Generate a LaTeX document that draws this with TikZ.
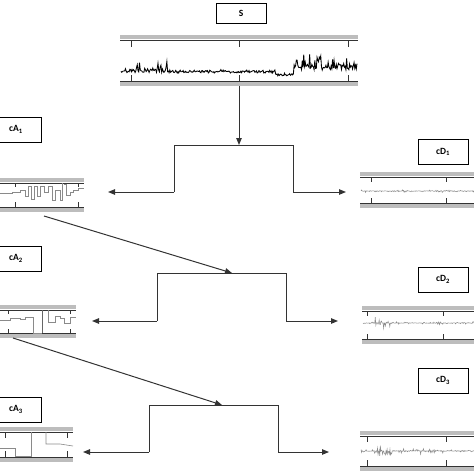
\documentclass[tikz,border=0pt]{standalone}
\usepackage{fontspec}
\setmainfont{Carlito}
\usetikzlibrary{arrows.meta}

\definecolor{bargray}{HTML}{BDBDBD}
\definecolor{siggray}{HTML}{8A8A8A}
\definecolor{linegray}{HTML}{333333}

% gray rail above and below a signal: name, x1, x2, ytop, ybot
\newcommand{\track}[5]{%
  \fill[bargray] (#2,#4-5) rectangle (#3,#4-1);
  \fill[bargray] (#2,#5+1) rectangle (#3,#5+5);
  \draw[rail] (#2,#4) -- (#3,#4);
  \draw[rail] (#2,#5) -- (#3,#5);
  \coordinate (#1) at ({(#2+#3)/2},{#5+5});
}

\begin{document}
\begin{tikzpicture}[x=1pt, y=-1pt,
    namebox/.style = {draw, line width=0.8pt, minimum width=50pt, minimum height=25pt,
                      inner sep=0pt, font=\fontsize{9.5}{11}\selectfont\bfseries},
    arr/.style = {line width=1pt, draw=linegray, -{Triangle[length=7pt,width=5.5pt]}},
    rail/.style = {line width=1pt, draw=black!80},
    tick/.style = {line width=0.8pt, draw=black!80},
    sig/.style = {siggray, line width=0.6pt}]
    \useasboundingbox (0,0) rectangle (474,474);
    \pgfmathsetseed{11}

    % labels
    \node[namebox, minimum height=20pt] (S) at (241,13) {S};
    \node[namebox] (cA1) at (16,129.5) {cA\textsubscript{1}};
    \node[namebox] (cA2) at (16,258.5) {cA\textsubscript{2}};
    \node[namebox] (cA3) at (16,409.5) {cA\textsubscript{3}};
    \node[namebox] (cD1) at (443,152) {cD\textsubscript{1}};
    \node[namebox] (cD2) at (443,279.5) {cD\textsubscript{2}};
    \node[namebox] (cD3) at (443,380.5) {cD\textsubscript{3}};

    % rails
    \track{tS}{120}{358}{40}{81}
    \track{tA1}{-2}{84}{183}{207}
    \track{tA2}{-2}{76}{310}{333}
    \track{tA3}{-2}{73}{432}{457}
    \track{tD1}{360}{476}{177}{203}
    \track{tD2}{362}{476}{311}{339}
    \track{tD3}{360}{476}{436}{466}

    % ticks
    \foreach \x in {131,239,348} \draw[tick] (\x,40) -- (\x,47) (\x,75) -- (\x,81);
    \foreach \x in {15,78} \draw[tick] (\x,183) -- (\x,187) (\x,202) -- (\x,207);
    \foreach \x in {8,70} \draw[tick] (\x,310) -- (\x,314) (\x,329) -- (\x,333);
    \foreach \x in {5,67} \draw[tick] (\x,432) -- (\x,438) (\x,451) -- (\x,457);
    \foreach \x in {371,446} \draw[tick] (\x,177) -- (\x,182) (\x,198) -- (\x,203);
    \foreach \x in {367,443} \draw[tick] (\x,311) -- (\x,316) (\x,334) -- (\x,339);
    \foreach \x in {367,446} \draw[tick] (\x,436) -- (\x,442) (\x,460) -- (\x,466);

    % signals
    \draw[line width=0.85pt] plot[samples=320, domain=121:357]
        (\x, {72 + 1.2*rand + 3*(\x>275)*(\x<294) - 2*(\x>294)
              - (3 + 12*(\x>128)*(\x<170))*abs(rand*rand*rand)
              - 4*(\x>294)*abs(rand) - 34*(\x>294)*abs(rand*rand*rand*rand)});
    \draw[sig] (-2,193) -- (12,193) -- (12,192) -- (20,192) -- (20,190) -- (25,190)
        -- (25,196) -- (28,196) -- (28,186) -- (31,186) -- (31,199) -- (34,199)
        -- (34,186) -- (37,186) -- (37,196) -- (40,196) -- (40,186) -- (44,186)
        -- (44,192) -- (48,192) -- (48,186) -- (52,186) -- (52,200) -- (55,200)
        -- (55,190) -- (60,190) -- (60,200) -- (62,200) -- (62,183);
    \draw[sig] (64,184) -- (66,184) -- (66,195) -- (70,195) -- (70,192) -- (73,192)
        -- (73,190) -- (78,190) -- (78,188) -- (84,188);
    \draw[sig] (-2,320) -- (10,320) -- (10,318) -- (20,318) -- (20,319) -- (25,319)
        -- (25,317) -- (33,317) -- (33,333) -- (42,333);
    \draw[sig, draw=black!60] (42,310) -- (42,333);
    \draw[sig] (48,310) -- (48,322) -- (55,322) -- (55,316) -- (60,316) -- (60,318)
        -- (64,318) -- (64,323) -- (70,323) -- (70,317) -- (76,317);
    \draw[sig] (-2,448) -- (15,448) -- (15,456) -- (31,456) -- (31,432);
    \draw[sig] (46,432) -- (46,444) -- (60,444) -- (73,446);
    \draw[sig, line width=0.5pt] plot[samples=200, domain=361:474]
        (\x, {191 + (2 + 2*(\x>400)*(\x<410))*rand*rand*rand});
    \draw[sig, line width=0.5pt] plot[samples=200, domain=363:474]
        (\x, {323 + (2.5 + 6*(\x>372)*(\x<390))*rand*rand*rand});
    \draw[sig, line width=0.5pt] plot[samples=200, domain=361:474]
        (\x, {451 + (3 + 9*(\x>373)*(\x<395) + 3*(\x>415)*(\x<440))*rand*rand*rand});

    % filter steps
    \foreach \n/\xl/\xa/\xb/\xr/\yt/\yb/\xm in {1/108/174/293/346/145/192/239,
            2/92/157/286/338/273/321/232, 3/83/149/278/329/405/452/222}{
        \coordinate (f\n-in) at (\xm,\yt);
        \coordinate (f\n-lo) at (\xl,\yb);
        \coordinate (f\n-hi) at (\xr,\yb);
        \draw[arr] (\xa,\yb) -- (f\n-lo);
        \draw[arr] (\xa,\yb) -- (\xa,\yt) -- (\xb,\yt) -- (\xb,\yb) -- (f\n-hi);
    }

    \coordinate (a1) at (44,216);
    \coordinate (a2) at (13,338);
    \draw[arr] (tS) -- (f1-in);
    \draw[arr] (a1) -- (f2-in);
    \draw[arr] (a2) -- (f3-in);
\end{tikzpicture}
\end{document}
